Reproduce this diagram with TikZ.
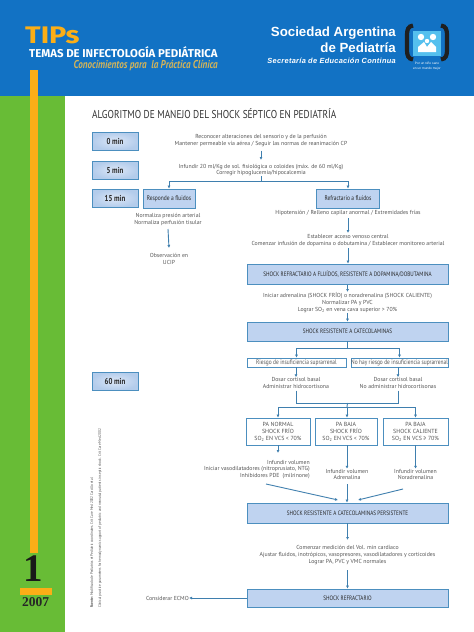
\documentclass[tikz,border=0pt]{standalone}
\usepackage{fontspec}
\setmainfont{PT Sans}
\newfontfamily\condf[FakeStretch=0.82]{PT Sans}
\newfontfamily\condb[FakeStretch=0.8]{PT Sans Bold}
\newfontfamily\headf{Fira Sans}
\newfontfamily\tipsf[FakeStretch=1.2]{Fira Sans Bold}
\newfontfamily\arialf{Liberation Sans}
\newfontfamily\secrf[LetterSpace=4]{Liberation Sans}
\newfontfamily\serf{Liberation Serif}
\usetikzlibrary{arrows.meta}
\definecolor{hblue}{HTML}{1272C4}
\definecolor{hgreen}{HTML}{68BC36}
\definecolor{horange}{HTML}{FBAE17}
\definecolor{bfill}{HTML}{BFD3F0}
\definecolor{bline}{HTML}{4C8FBF}
\definecolor{txt}{HTML}{555555}
\definecolor{arr}{HTML}{3F7FAE}
\definecolor{conoc}{HTML}{D2B45A}
\definecolor{logoc}{HTML}{55C0EE}
\tikzset{
  x=1pt,y=-1pt,
  timebox/.style={draw=bline,line width=.9pt,inner color=bfill!55,outer color=bfill!90!bline,minimum width=46pt,minimum height=18pt,inner sep=0pt,font=\condb\fontsize{8.6}{9}\selectfont,text=black!85},
  stepbox/.style={draw=bline,line width=.8pt,fill=bfill,inner sep=0pt,font=\condf\fontsize{6.35}{7}\selectfont,text=black!85},
  bigbox/.style={stepbox,minimum width=201pt},
  whitebox/.style={draw=bline,line width=.8pt,fill=white,inner sep=0pt,font=\condf\fontsize{6.6}{7}\selectfont,text=txt,align=center},
  pabox/.style={whitebox,line width=.9pt,minimum height=27pt,font=\fontsize{5.9}{7}\selectfont},
  note/.style={inner sep=0pt,align=center,font=\fontsize{5.8}{6.9}\selectfont,text=txt},
  conn/.style={draw=arr,line width=.9pt},
  arrow/.style={conn,-{Latex[length=3pt,width=3pt]}},
}
\begin{document}
\begin{tikzpicture}
\useasboundingbox (0,0) rectangle (474,632);
\fill[white] (0,0) rectangle (474,632);
\fill[hgreen] (0,96) rectangle (65,632);
\fill[hblue] (0,0) rectangle (474,96);
\fill[horange] (30,70) rectangle (37.5,553);
\fill[horange] (20,588) rectangle (52,594.5);
% header text
\node[anchor=west,inner sep=0pt,text=horange,font=\tipsf\fontsize{24}{24}\selectfont] (tips) at (25,35) {TIPs};
\node[anchor=west,inner sep=0pt,text=white,font=\headf\bfseries\fontsize{11.4}{12}\selectfont] (temas) at (29,52) {TEMAS DE INFECTOLOGÍA PEDIÁTRICA};
\node[anchor=east,inner sep=0pt,text=conoc,font=\condb\itshape\fontsize{11.4}{12}\selectfont] (conoc) at (218,66) {Conocimientos para\ \ la Práctica Clínica};
\node[anchor=east,inner sep=0pt,text=white,font=\arialf\bfseries\fontsize{13.3}{14}\selectfont] (soc) at (396,33.5) {Sociedad Argentina};
\node[anchor=east,inner sep=0pt,text=white,font=\arialf\bfseries\fontsize{13.3}{14}\selectfont] (depe) at (396,48) {de Pediatría};
\node[anchor=east,inner sep=0pt,text=white,font=\secrf\bfseries\itshape\fontsize{7.4}{8}\selectfont] (secr) at (396,61) {Secretaría de Educación Continua};
% logo
\fill[logoc] (413,31) rectangle (441,56);
\draw[black!88,line width=4.2pt] (413,25.5) .. controls (408,26) and (407,30) .. (407,35) -- (407,50) .. controls (407,55) and (408,59) .. (413,59.5);
\draw[black!88,line width=4.2pt] (441,25.5) .. controls (446,26) and (447,30) .. (447,35) -- (447,50) .. controls (447,55) and (446,59) .. (441,59.5);
\fill[white] (421,37) circle (3.2) (433,37) circle (3.2) (427,41) circle (2.2);
\fill[white] (418,47) -- (424,42) -- (427,47) -- (431,42) -- (436,47) -- (436,52) -- (418,52) -- cycle;
\node[inner sep=0pt,align=center,text=white,font=\arialf\fontsize{3.2}{4.4}\selectfont] (lema) at (427,66) {Por un niño sano\\en un mundo mejor};
% side
\node[inner sep=0pt,text=black!90,font=\serf\bfseries\fontsize{39}{39}\selectfont] (uno) at (33,569) {1};
\node[inner sep=0pt,text=black!85,font=\serf\bfseries\fontsize{13.5}{14}\selectfont] (anio) at (35.5,602.5) {2007};
\node[rotate=90,anchor=west,inner sep=0pt,align=left,text=txt,font=\condf\fontsize{4.1}{8}\selectfont] (fuente) at (96,608) {\textbf{Fuente:} Modificado de Pediatrics et Pediatric coordinates. Crit Care Med 2002 Carcillo et al\\Clinical practice parameters for hemodynamic support of pediatric and neonatal patients in septic shock. Crit Care Med 2002};
% title
\node[anchor=west,inner sep=0pt,text=black!80,font=\condf\fontsize{11.4}{12}\selectfont] (title) at (92,113.5) {ALGORITMO DE MANEJO DEL SHOCK SÉPTICO EN PEDIATRÍA};
% time boxes
\node[timebox] (t0) at (115,141) {0 min};
\node[timebox] (t5) at (115,170) {5 min};
\node[timebox] (t15) at (115,198) {15 min};
\node[timebox] (t60) at (115,381) {60 min};
% flow
\node[note] (n1) at (261,140.5) {Reconocer alteraciones del sensorio y de la perfusión\\Mantener permeable vía aérea / Seguir las normas de reanimación CP};
\node[note] (n2) at (261,170) {Infundir 20 ml/Kg de sol. fisiológica o coloides (máx. de 60 ml/Kg)\\Corregir hipoglucemia/hipocalcemia};
\node[stepbox,font=\condf\fontsize{6.7}{7}\selectfont,minimum width=52pt,minimum height=19pt] (resp) at (169,198.5) {Responde a fluidos};
\node[stepbox,font=\condf\fontsize{6.7}{7}\selectfont,minimum width=63pt,minimum height=19pt] (refr) at (348,198.5) {Refractario a fluidos};
\coordinate (split1) at (261,181);
\draw[arrow] (n1.south |- 0,150.5) -- (n2.north |- 0,160);
\draw[conn] (n2.south) -- (split1);
\draw[arrow] (split1) -| (resp.north);
\draw[arrow] (split1) -| (refr.north);
\node[note] (n3) at (168,219.5) {Normaliza presión arterial\\Normaliza perfusión tisular};
\node[note] (n4) at (169,258.5) {Observación en\\UCIP};
\draw[arrow] (n3.south |- 0,229) -- (n4.north |- 0,248);
\node[note] (n5) at (348,213) {Hipotensión / Relleno capilar anormal / Extremidades frías};
\node[note] (n6) at (348,240.5) {Establecer acceso venoso central\\Comenzar infusión de dopamina o dobutamina / Establecer monitoreo arterial};
\draw[arrow] (n5.south |- 0,218) -- (n6.north |- 0,233);
\node[bigbox,minimum height=20pt] (b1) at (347.5,274) {SHOCK REFRACTARIO A FLUÍDOS, RESISTENTE A DOPAMINA/DOBUTAMINA};
\draw[arrow] (n6.south |- 0,248) -- (b1.north -| n6.south);
\node[note] (n7) at (347.5,302.5) {Iniciar adrenalina (SHOCK FRÍO) o noradrenalina (SHOCK CALIENTE)\\Normalizar PA y PVC\\Lograr SO\textsubscript{2} en vena cava superior > 70\%};
\draw[arrow] (b1.south) ++(0,1) -- (n7.north |- 0,292);
\node[bigbox,minimum height=19pt] (b2) at (347.5,331.5) {SHOCK RESISTENTE A CATECOLAMINAS};
\draw[arrow] (n7.south |- 0,313) -- (b2.north);
\coordinate (split2) at (347.5,348);
\node[whitebox,minimum width=99pt,minimum height=9pt] (r1) at (296.5,362.5) {Riesgo de insuficiencia suprarrenal};
\node[whitebox,minimum width=97pt,minimum height=9pt] (r2) at (399.5,362.5) {No hay riesgo de insuficiencia suprarrenal};
\draw[conn] (b2.south) -- (split2);
\draw[arrow] (split2) -| (r1.north);
\draw[arrow] (split2) -| (r2.north);
\node[note] (d1) at (296,383) {Dosar cortisol basal\\Administrar hidrocortisona};
\node[note] (d2) at (398,383) {Dosar cortisol basal\\No administrar hidrocortisonas};
\draw[arrow] (r1.south -| d1.north) -- (d1.north);
\draw[arrow] (r2.south -| d2.north) -- (d2.north);
\coordinate (join) at (347.5,403);
\draw[conn] (d1.south) ++(0,2) |- (join);
\draw[conn] (d2.south) ++(0,2) |- (join);
\node[pabox,minimum width=64pt] (p1) at (278,431.5) {PA NORMAL\\SHOCK FRÍO\\SO\textsubscript{2} EN VCS < 70\%};
\node[pabox,minimum width=62pt] (p2) at (346,431.5) {PA BAJA\\SHOCK FRÍO\\SO\textsubscript{2} EN VCS < 70\%};
\node[pabox,minimum width=65pt] (p3) at (415.5,431.5) {PA BAJA\\SHOCK CALIENTE\\SO\textsubscript{2} EN VCS ≥ 70\%};
\coordinate (split3) at (347,407);
\draw[conn] (join) -- (split3);
\draw[arrow] (split3) -| (p1.north);
\draw[arrow] (split3) -- (p2.north -| split3);
\draw[arrow] (split3) -| (p3.north);
\node[note,align=right,anchor=east] (v1) at (310,469.5) {Infundir volumen\\Iniciar vasodilatadores (nitroprusiato, NTG)\\Inhibidores PDE\ \ (milrinone)};
\node[note] (v2) at (347,474.5) {Infundir volumen\\Adrenalina};
\node[note] (v3) at (415.5,474.5) {Infundir volumen\\Noradrenalina};
\coordinate (v1a) at (278,453);
\draw[arrow] (p1.south) -- (v1a);
\draw[arrow] (p2.south -| v2.north) -- (v2.north);
\draw[arrow] (p3.south -| v3.north) -- (v3.north);
\node[bigbox,minimum height=20pt] (b3) at (347.5,513) {SHOCK RESISTENTE A CATECOLAMINAS PERSISTENTE};
\coordinate (c1) at (266,484);
\coordinate (c1e) at (338,500);
\coordinate (c3) at (403,489);
\coordinate (c3e) at (358,500);
\draw[arrow] (c1) -- (c1e);
\draw[arrow] (v2.south |- 0,484) -- (b3.north -| v2.south);
\draw[arrow] (c3) -- (c3e);
\node[note] (m1) at (347.5,555) {Comenzar medición del Vol. min cardíaco\\Ajustar fluidos, inotrópicos, vasopresores, vasodilatadores y corticoides\\Lograr PA, PVC y VMC normales};
\draw[arrow] (b3.south) -- (m1.north |- 0,540);
\node[bigbox,minimum height=18pt] (b4) at (347.5,598) {SHOCK REFRACTARIO};
\draw[arrow] (m1.south |- 0,570) -- (b4.north);
\node[note,anchor=east] (ecmo) at (189,598) {Considerar ECMO};
\draw[arrow] (b4.west) -- (ecmo.east);
\end{tikzpicture}
\end{document}
